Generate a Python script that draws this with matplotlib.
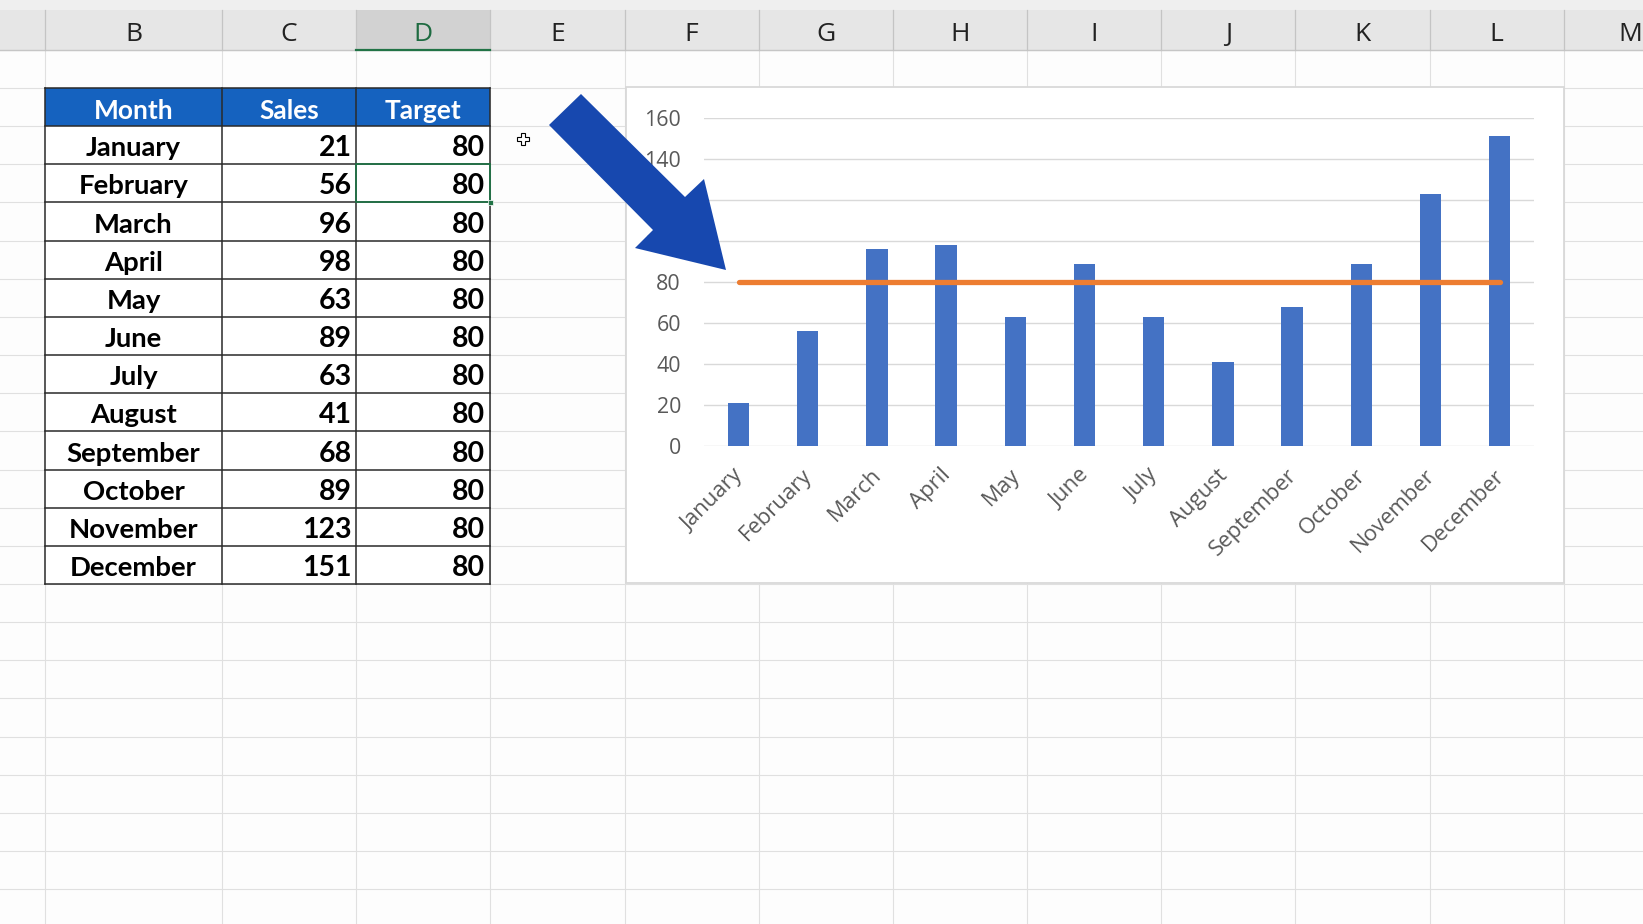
import matplotlib
matplotlib.use('Agg')
import matplotlib.pyplot as plt
from matplotlib.patches import Rectangle, Polygon
import matplotlib.transforms as mtransforms

# ---------------- data ----------------
months = ['January', 'February', 'March', 'April', 'May', 'June',
          'July', 'August', 'September', 'October', 'November', 'December']
sales = [21, 56, 96, 98, 63, 89, 63, 41, 68, 89, 123, 151]
target = [80, 80, 80, 80, 80, 80, 80, 80, 80, 80, 80, 80]
table_headers = ['Month', 'Sales', 'Target']
col_letters = ['B', 'C', 'D', 'E', 'F', 'G', 'H', 'I', 'J', 'K', 'L', 'M']
y_ticks = [0, 20, 40, 60, 80, 100, 120, 140, 160]

# ---------------- figure ----------------
W, H = 1643, 924
fig = plt.figure(figsize=(W / 100, H / 100), dpi=100)
fig.patch.set_facecolor('#fdfdfd')
renderer = fig.canvas.get_renderer()


def fit_size(txt, target_px, **kw):
    t = fig.text(0, 0, txt, fontsize=20, **kw)
    w = t.get_window_extent(renderer=renderer).width
    t.remove()
    return 20 * target_px / w


bg = fig.add_axes([0, 0, 1, 1])
bg.set_xlim(0, W)
bg.set_ylim(H, 0)
bg.axis('off')

# sheet geometry
row0 = 49.85
row_h = 38.15
col_edges = [45, 222] + [356.3 + k * 134.15 for k in range(10)]

# cell gridlines
k = 0
while row0 + k * row_h < H:
    y = row0 + k * row_h
    bg.plot([0, W], [y, y], color='#e0e0e0', lw=0.8, zorder=1)
    k += 1
for x in col_edges:
    bg.plot([x, x], [50, H], color='#e0e0e0', lw=0.8, zorder=1)

# column header band
bg.add_patch(Rectangle((0, 0), W, 10, fc='#efefef', ec='none', zorder=2))
bg.add_patch(Rectangle((0, 10), W, 40, fc='#e6e6e6', ec='none', zorder=2))
bg.add_patch(Rectangle((col_edges[2], 10), col_edges[3] - col_edges[2], 40,
                       fc='#d2d2d2', ec='none', zorder=2))
bg.plot([0, W], [50, 50], color='#c6c6c6', lw=1.0, zorder=3)
bg.plot([col_edges[2], col_edges[3]], [49.5, 49.5], color='#217346', lw=1.6, zorder=4)
for x in col_edges:
    bg.plot([x, x], [10, 50], color='#c4c4c4', lw=0.9, zorder=3)
for i, letter in enumerate(col_letters):
    cx = (col_edges[i] + col_edges[i + 1]) / 2 if i + 1 < len(col_edges) else col_edges[i] + 67
    bg.text(cx, 40.7, letter, ha='center', va='baseline', fontsize=19,
            family='Open Sans', color='#1e6b41' if letter == 'D' else '#222222', zorder=5)

# ---------------- table ----------------
tx0, tx1 = col_edges[0], col_edges[3]
ty0 = 88.0
n_rows = len(months) + 1
bg.add_patch(Rectangle((tx0, ty0), tx1 - tx0, n_rows * row_h, fc='white', ec='none', zorder=2))
bg.add_patch(Rectangle((tx0, ty0), tx1 - tx0, row_h, fc='#1562bf', ec='none', zorder=3))
for r in range(n_rows + 1):
    y = ty0 + r * row_h
    bg.plot([tx0, tx1], [y, y], color='#2a2a2a', lw=1.1, zorder=4)
for x in col_edges[:4]:
    bg.plot([x, x], [ty0, ty0 + n_rows * row_h], color='#2a2a2a', lw=1.1, zorder=4)

fs_data = fit_size('September', 134, family='Lato', weight='bold')
fs_head = fit_size('Month', 79, family='Lato', weight='bold')

for j, h in enumerate(table_headers):
    cx = (col_edges[j] + col_edges[j + 1]) / 2
    bg.text(cx, ty0 + 30.8, h, ha='center', va='baseline', fontsize=fs_head,
            family='Lato', weight='bold', color='white', zorder=5)
for i in range(len(months)):
    yb = ty0 + (i + 1) * row_h + 30.2
    bg.text((col_edges[0] + col_edges[1]) / 2, yb, months[i], ha='center', va='baseline',
            fontsize=fs_data, family='Lato', weight='bold', color='black', zorder=5)
    bg.text(col_edges[2] - 4.8, yb, str(sales[i]), ha='right', va='baseline',
            fontsize=fs_data * 1.04, family='Lato', weight='bold', color='black', zorder=5)
    bg.text(col_edges[3] - 5.5, yb, str(target[i]), ha='right', va='baseline',
            fontsize=fs_data * 1.04, family='Lato', weight='bold', color='black', zorder=5)

# selected cell D3
sel_y0 = ty0 + 2 * row_h
bg.add_patch(Rectangle((col_edges[2], sel_y0), col_edges[3] - col_edges[2], row_h,
                       fc='none', ec='#217346', lw=1.3, zorder=6))
bg.add_patch(Rectangle((col_edges[3] - 2.5, sel_y0 + row_h - 2.5), 5, 5,
                       fc='#217346', ec='white', lw=0.5, zorder=7))

# chart area
bg.add_patch(Rectangle((625.6, 87.3), 938.0, 495.4, fc='white', ec='#d9d9d9', lw=1.3, zorder=6))

# ---------------- chart ----------------
ax = fig.add_axes([703.9 / W, 1 - 446 / H, (1534.3 - 703.9) / W, (446 - 118) / H])
ax.set_facecolor('none')
x = list(range(len(months)))
ax.bar(x, sales, width=0.31, color='#4472c4', zorder=2)
ax.plot(x, target, color='#ed7d31', lw=3.8, solid_capstyle='round', zorder=3)
ax.set_xlim(-0.5, len(months) - 0.5)
ax.set_ylim(0, 160)
ax.set_yticks(y_ticks)
ax.yaxis.grid(True, color='#d9d9d9', lw=1.0)
ax.set_axisbelow(True)
for s in ax.spines.values():
    s.set_visible(False)

fs_y = fit_size('160', 36.7, family='Open Sans')
fs_x = fit_size('December', 107, family='Open Sans')
ax.tick_params(length=0, labelcolor='#595959')
ax.tick_params(axis='y', pad=23 * 0.72, labelsize=fs_y)
ax.tick_params(axis='x', pad=13.5, labelsize=fs_x)
ax.set_xticks(x)
ax.set_xticklabels(months, rotation=45, ha='right', rotation_mode='anchor')
for lab in ax.get_xticklabels() + ax.get_yticklabels():
    lab.set_family('Open Sans')
offset = mtransforms.ScaledTranslation(-6 / 100, 0, fig.dpi_scale_trans)
for lab in ax.get_xticklabels():
    lab.set_transform(lab.get_transform() + offset)

# ---------------- overlay (arrow, cursor) ----------------
ov = fig.add_axes([0, 0, 1, 1])
ov.set_xlim(0, W)
ov.set_ylim(H, 0)
ov.axis('off')
ov.set_facecolor('none')
arrow_pts = [(549, 125), (581, 94), (685, 197), (704, 179), (726, 270), (635, 248), (653, 230)]
ov.add_patch(Polygon(arrow_pts, closed=True, fc='#1748af', ec='none', zorder=10))
ov.plot([522.7], [139.3], marker='P', markersize=8, mfc='white', mec='black', mew=0.8, zorder=11)

fig.savefig('out.png', dpi=100, facecolor=fig.get_facecolor())
